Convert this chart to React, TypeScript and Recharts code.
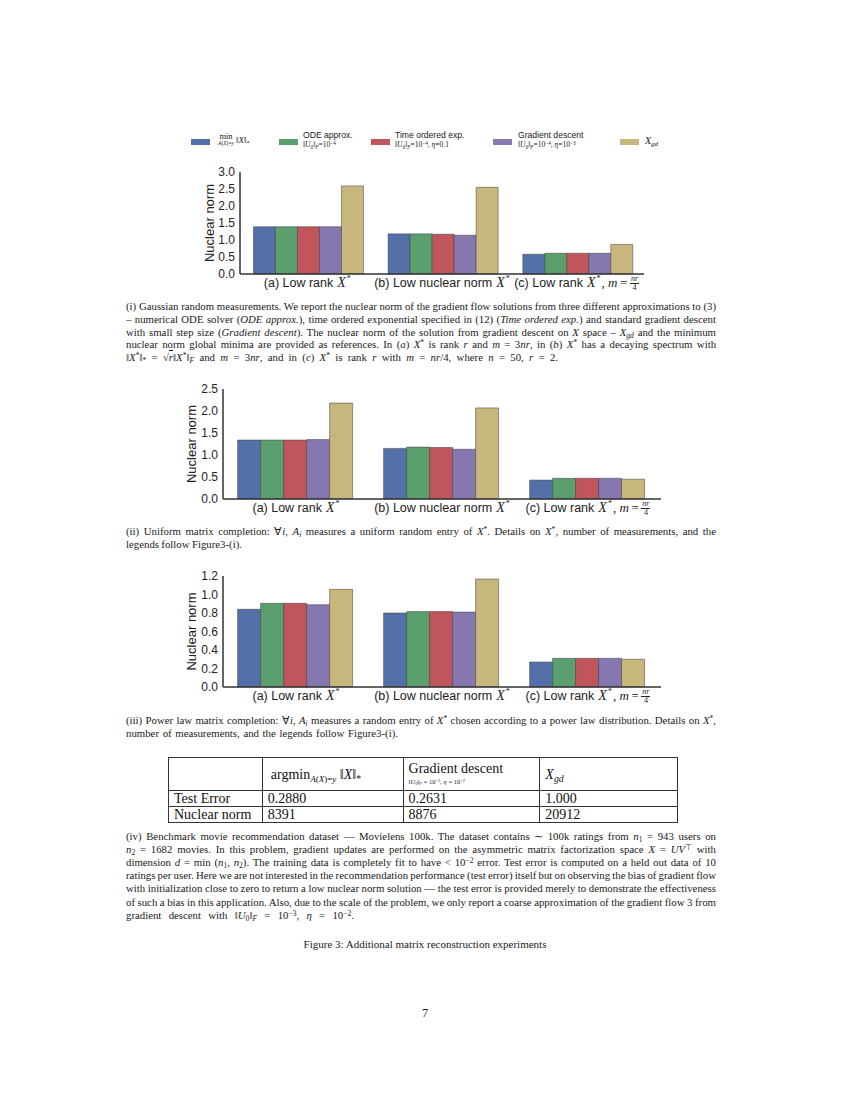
import React, { useLayoutEffect, useRef, useState } from "react";
import { BarChart, Bar, XAxis, YAxis } from "recharts";

const categories = ["a", "b", "c"];
const tickText = ["(a) Low rank", "(b) Low nuclear norm", "(c) Low rank"];
const seriesKeys = ["minNorm", "ode", "timeExp", "gd", "xgd"];
const colors = ["#5470A8", "#5A9F6D", "#C0565B", "#8677B0", "#C7B77D"];

// (i) gaussian measurements
const gaussMinNorm = [1.39, 1.18, 0.58];
const gaussOde = [1.39, 1.18, 0.61];
const gaussTimeExp = [1.39, 1.17, 0.61];
const gaussGd = [1.39, 1.14, 0.61];
const gaussXgd = [2.59, 2.55, 0.87];
const gaussTicks = [0, 0.5, 1.0, 1.5, 2.0, 2.5, 3.0];

// (ii) uniform completion
const unifMinNorm = [1.34, 1.15, 0.43];
const unifOde = [1.34, 1.18, 0.47];
const unifTimeExp = [1.34, 1.17, 0.47];
const unifGd = [1.35, 1.13, 0.47];
const unifXgd = [2.18, 2.07, 0.45];
const unifTicks = [0, 0.5, 1.0, 1.5, 2.0, 2.5];

// (iii) power law completion
const powMinNorm = [0.84, 0.8, 0.27];
const powOde = [0.905, 0.815, 0.31];
const powTimeExp = [0.905, 0.815, 0.31];
const powGd = [0.89, 0.81, 0.31];
const powXgd = [1.056, 1.167, 0.3];
const powTicks = [0, 0.2, 0.4, 0.6, 0.8, 1.0, 1.2];

// (iv) movielens table
const tableRowNames = ["Test Error", "Nuclear norm"];
const testError = ["0.2880", "0.2631", "1.000"];
const nuclearNorm = ["8391", "8876", "20912"];

const SANS = '"Liberation Sans", Arial, sans-serif';
const SERIF = '"Liberation Serif", "Times New Roman", serif';
const INK = "#222";

function buildRows(series: number[][]) {
  return categories.map((cat, i) => {
    const row: any = { cat };
    seriesKeys.forEach((k, j) => (row[k] = series[j][i]));
    return row;
  });
}

const Sp = ({ children }: any) => (
  <sup style={{ fontSize: "0.7em", lineHeight: 0, verticalAlign: "0.45em" }}>{children}</sup>
);
const Sb = ({ children }: any) => (
  <sub style={{ fontSize: "0.7em", lineHeight: 0, verticalAlign: "-0.3em" }}>{children}</sub>
);
const Xs = () => (
  <>
    <i>X</i>
    <Sp>*</Sp>
  </>
);

function MathLabel({ index }: { index: number }) {
  const xstar = (
    <span style={{ fontFamily: SERIF, fontStyle: "italic", fontSize: 14, marginLeft: 4 }}>
      X<sup style={{ fontSize: 8, verticalAlign: "6px", lineHeight: 0, fontStyle: "normal", marginLeft: 1 }}>*</sup>
    </span>
  );
  if (index < 2) return xstar;
  return (
    <>
      {xstar}
      <span style={{ fontFamily: SERIF, fontSize: 13, marginLeft: 1 }}>
        , <i>m</i>
        {"\u2009=\u2009"}
      </span>
      <span
        style={{
          display: "inline-flex",
          flexDirection: "column",
          alignItems: "center",
          fontFamily: SERIF,
          fontSize: 8,
          lineHeight: "8px",
          verticalAlign: "middle",
        }}
      >
        <span style={{ borderBottom: `0.8px solid ${INK}`, padding: "0 1px" }}>
          <i>nr</i>
        </span>
        <span>4</span>
      </span>
    </>
  );
}

function CatTick(props: any) {
  const { x, y, payload } = props;
  const i = payload.index;
  return (
    <foreignObject x={x - 100} y={y - 1} width={200} height={22}>
      <div
        style={{
          display: "flex",
          justifyContent: "center",
          alignItems: "center",
          height: 20,
          whiteSpace: "nowrap",
          fontFamily: SANS,
          fontSize: 12.5,
          color: INK,
        }}
      >
        <span>{tickText[i]}</span>
        <MathLabel index={i} />
      </div>
    </foreignObject>
  );
}

function NormChart({
  left,
  top,
  width,
  height,
  rows,
  ticks,
  labelOffset,
}: {
  left: number;
  top: number;
  width: number;
  height: number;
  rows: any[];
  ticks: number[];
  labelOffset: number;
}) {
  return (
    <div style={{ position: "absolute", left, top }}>
      <BarChart
        width={width}
        height={height}
        data={rows}
        margin={{ top: 10, right: 10, bottom: 0, left: 0 }}
        barCategoryGap="10%"
        barGap={0}
      >
        <XAxis
          dataKey="cat"
          tick={<CatTick />}
          tickLine={false}
          tickSize={0}
          tickMargin={0}
          interval={0}
          height={26}
          axisLine={{ stroke: "#333", strokeWidth: 1.5 }}
        />
        <YAxis
          width={60}
          domain={[0, ticks[ticks.length - 1]]}
          ticks={ticks}
          interval={0}
          tickFormatter={(v) => v.toFixed(1)}
          tickLine={false}
          tickSize={0}
          tickMargin={5}
          axisLine={{ stroke: "#333", strokeWidth: 1.5 }}
          tick={{ fontSize: 12, fill: INK, fontFamily: SANS }}
          label={{
            value: "Nuclear norm",
            angle: -90,
            position: "insideLeft",
            offset: labelOffset,
            style: { textAnchor: "middle", fontSize: 13, fill: INK, fontFamily: SANS },
          }}
        />
        {seriesKeys.map((k, j) => (
          <Bar
            key={k}
            dataKey={k}
            fill={colors[j]}
            stroke="#3a3a3a"
            strokeWidth={0.5}
            isAnimationActive={false}
          />
        ))}
      </BarChart>
    </div>
  );
}

const TEXT_LEFT = 126;
const TEXT_W = 590;

// one typeset line: word spacing is stretched or shrunk so the line fills the measure
function Line({ y, fill, children }: { y: number; fill?: number; children: any }) {
  const ref = useRef<HTMLSpanElement>(null);
  const [ws, setWs] = useState(0);
  useLayoutEffect(() => {
    const el = ref.current;
    if (!el) return;
    const w = el.getBoundingClientRect().width;
    const spaces = ((el.textContent || "").match(/ /g) || []).length;
    if (!spaces) return;
    const target = fill ?? TEXT_W;
    setWs((target - w) / spaces);
  }, []);
  return (
    <div
      style={{
        position: "absolute",
        left: TEXT_LEFT,
        top: y - 7,
        width: TEXT_W + 40,
        height: 14,
        lineHeight: "14px",
        fontSize: 10.8,
        whiteSpace: "nowrap",
      }}
    >
      <span ref={ref} style={{ wordSpacing: ws, whiteSpace: "nowrap" }}>
        {children}
      </span>
    </div>
  );
}

function Paragraph({ y0, step, lines, lastWidth }: { y0: number; step: number; lines: any[]; lastWidth: number }) {
  return (
    <>
      {lines.map((l, i) => (
        <Line key={i} y={y0 + i * step} fill={i === lines.length - 1 ? lastWidth : undefined}>
          {l}
        </Line>
      ))}
    </>
  );
}

const captionI = [
  <>(i) Gaussian random measurements. We report the nuclear norm of the gradient flow solutions from three different approximations to (3)</>,
  <>
    – numerical ODE solver (<i>ODE approx.</i>), time ordered exponential specified in (12) (<i>Time ordered exp.</i>) and standard gradient descent
  </>,
  <>
    with small step size (<i>Gradient descent</i>). The nuclear norm of the solution from gradient descent on <i>X</i> space – <i>X</i>
    <Sb>
      <i>gd</i>
    </Sb>{" "}
    and the minimum
  </>,
  <>
    nuclear norm global minima are provided as references. In (<i>a</i>) <Xs /> is rank <i>r</i> and <i>m</i> = 3<i>nr</i>, in (<i>b</i>) <Xs /> has a decaying spectrum with
  </>,
  <>
    ‖<Xs />‖<Sb>*</Sb> = √<span style={{ textDecoration: "overline" }}><i>r</i></span>‖<Xs />‖<Sb><i>F</i></Sb> and <i>m</i> = 3<i>nr</i>, and in (<i>c</i>) <Xs /> is rank <i>r</i> with <i>m</i> = <i>nr</i>/4, where <i>n</i> = 50, <i>r</i> = 2.
  </>,
];

const captionII = [
  <>
    (ii) Uniform matrix completion: ∀<i>i</i>, <i>A</i>
    <Sb><i>i</i></Sb> measures a uniform random entry of <Xs />. Details on <Xs />, number of measurements, and the
  </>,
  <>legends follow Figure3-(i).</>,
];

const captionIII = [
  <>
    (iii) Power law matrix completion: ∀<i>i</i>, <i>A</i>
    <Sb><i>i</i></Sb> measures a random entry of <Xs /> chosen according to a power law distribution. Details on <Xs />,
  </>,
  <>number of measurements, and the legends follow Figure3-(i).</>,
];

const captionIV = [
  <>
    (iv) Benchmark movie recommendation dataset — Movielens 100k. The dataset contains ∼ 100k ratings from <i>n</i>
    <Sb>1</Sb> = 943 users on
  </>,
  <>
    <i>n</i>
    <Sb>2</Sb> = 1682 movies. In this problem, gradient updates are performed on the asymmetric matrix factorization space <i>X</i> = <i>UV</i>
    <Sp>⊤</Sp> with
  </>,
  <>
    dimension <i>d</i> = min (<i>n</i>
    <Sb>1</Sb>, <i>n</i>
    <Sb>2</Sb>). The training data is completely fit to have &lt; 10<Sp>−2</Sp> error. Test error is computed on a held out data of 10
  </>,
  <>ratings per user. Here we are not interested in the recommendation performance (test error) itself but on observing the bias of gradient flow</>,
  <>with initialization close to zero to return a low nuclear norm solution — the test error is provided merely to demonstrate the effectiveness</>,
  <>of such a bias in this application. Also, due to the scale of the problem, we only report a coarse approximation of the gradient flow 3 from</>,
  <>
    gradient descent with ‖<i>U</i>
    <Sb>0</Sb>‖<Sb><i>F</i></Sb> = 10<Sp>−3</Sp>, <i>η</i> = 10<Sp>−2</Sp>.
  </>,
];

function LegendBlock() {
  const patchX = [191, 279, 371, 493, 620];
  const sub = { fontFamily: SERIF, fontSize: 7.5, lineHeight: "9px", whiteSpace: "nowrap" as const };
  const head = { fontFamily: SANS, fontSize: 8.6, lineHeight: "10px", whiteSpace: "nowrap" as const };
  return (
    <>
      {patchX.map((x, j) => (
        <div key={j} style={{ position: "absolute", left: x, top: 139, width: 19, height: 6, background: colors[j] }} />
      ))}
      <div style={{ position: "absolute", left: 218, top: 133, display: "flex", alignItems: "center", fontFamily: SERIF, whiteSpace: "nowrap" }}>
        <span style={{ display: "inline-flex", flexDirection: "column", alignItems: "center", lineHeight: "7px" }}>
          <span style={{ fontSize: 8.5 }}>min</span>
          <span style={{ fontSize: 5.5 }}>
            <i>A</i>(<i>X</i>)=<i>y</i>
          </span>
        </span>
        <span style={{ fontSize: 9, marginLeft: 2 }}>
          ‖<i>X</i>‖<Sb>*</Sb>
        </span>
      </div>
      <div style={{ position: "absolute", left: 303, top: 130 }}>
        <div style={head}>ODE approx.</div>
        <div style={sub}>
          ‖<i>U</i><Sb>0</Sb>‖<Sb><i>F</i></Sb>=10<Sp>−4</Sp>
        </div>
      </div>
      <div style={{ position: "absolute", left: 395, top: 130 }}>
        <div style={head}>Time ordered exp.</div>
        <div style={sub}>
          ‖<i>U</i><Sb>0</Sb>‖<Sb><i>F</i></Sb>=10<Sp>−4</Sp>, <i>η</i>=0.1
        </div>
      </div>
      <div style={{ position: "absolute", left: 518, top: 130 }}>
        <div style={head}>Gradient descent</div>
        <div style={sub}>
          ‖<i>U</i><Sb>0</Sb>‖<Sb><i>F</i></Sb>=10<Sp>−4</Sp>, <i>η</i>=10<Sp>−3</Sp>
        </div>
      </div>
      <div style={{ position: "absolute", left: 645, top: 135, fontFamily: SERIF, fontSize: 10, fontStyle: "italic" }}>
        X<Sb>gd</Sb>
      </div>
    </>
  );
}

function ResultTable() {
  const cell = {
    border: "1px solid #333",
    padding: "0 0 0 5px",
    fontSize: 14,
    lineHeight: "15px",
    textAlign: "left" as const,
    verticalAlign: "middle" as const,
  };
  return (
    <table
      style={{
        position: "absolute",
        left: 168,
        top: 757,
        width: 510,
        borderCollapse: "collapse",
        fontFamily: SERIF,
        color: "#111",
      }}
    >
      <colgroup>
        <col style={{ width: 94 }} />
        <col style={{ width: 141 }} />
        <col style={{ width: 137 }} />
        <col style={{ width: 138 }} />
      </colgroup>
      <tbody>
        <tr style={{ height: 33 }}>
          <td style={cell}></td>
          <td style={{ ...cell, paddingLeft: 8 }}>
            argmin
            <sub style={{ fontSize: 9, verticalAlign: "-3px", lineHeight: 0 }}>
              <i>A</i>(<i>X</i>)=<i>y</i>
            </sub>{" "}
            ‖<i>X</i>‖<Sb>*</Sb>
          </td>
          <td style={cell}>
            <div style={{ lineHeight: "16px" }}>Gradient descent</div>
            <div style={{ fontSize: 6.5, lineHeight: "10px", whiteSpace: "nowrap" }}>
              ‖<i>U</i><Sb>0</Sb>‖<Sb><i>F</i></Sb> = 10<Sp>−3</Sp>, <i>η</i> = 10<Sp>−2</Sp>
            </div>
          </td>
          <td style={cell}>
            <i>X</i>
            <Sb><i>gd</i></Sb>
          </td>
        </tr>
        <tr style={{ height: 15 }}>
          <td style={cell}>{tableRowNames[0]}</td>
          {testError.map((v, i) => (
            <td key={i} style={cell}>{v}</td>
          ))}
        </tr>
        <tr style={{ height: 15 }}>
          <td style={cell}>{tableRowNames[1]}</td>
          {nuclearNorm.map((v, i) => (
            <td key={i} style={cell}>{v}</td>
          ))}
        </tr>
      </tbody>
    </table>
  );
}

export default function App() {
  const gaussRows = buildRows([gaussMinNorm, gaussOde, gaussTimeExp, gaussGd, gaussXgd]);
  const unifRows = buildRows([unifMinNorm, unifOde, unifTimeExp, unifGd, unifXgd]);
  const powRows = buildRows([powMinNorm, powOde, powTimeExp, powGd, powXgd]);

  return (
    <div
      style={{
        position: "absolute",
        left: 0,
        top: 0,
        width: 850,
        height: 1100,
        background: "#fff",
        fontFamily: SERIF,
        color: "#1a1a1a",
        overflow: "hidden",
      }}
    >
      <LegendBlock />
      <NormChart left={180} top={162} width={474} height={138} rows={gaussRows} ticks={gaussTicks} labelOffset={29} />
      <Paragraph y0={306} step={12.8} lines={captionI} lastWidth={432} />
      <NormChart left={163} top={379} width={508} height={146} rows={unifRows} ticks={unifTicks} labelOffset={28} />
      <Paragraph y0={531} step={13} lines={captionII} lastWidth={116} />
      <NormChart left={163} top={566} width={508} height={147} rows={powRows} ticks={powTicks} labelOffset={28} />
      <Paragraph y0={720} step={13} lines={captionIII} lastWidth={272} />
      <ResultTable />
      <Paragraph y0={836} step={13.1} lines={captionIV} lastWidth={228} />
      <div style={{ position: "absolute", left: 0, width: 850, top: 937, textAlign: "center", fontSize: 11, lineHeight: "14px" }}>
        Figure 3: Additional matrix reconstruction experiments
      </div>
      <div style={{ position: "absolute", left: 0, width: 850, top: 1005, textAlign: "center", fontSize: 12.5, lineHeight: "16px" }}>
        7
      </div>
    </div>
  );
}
